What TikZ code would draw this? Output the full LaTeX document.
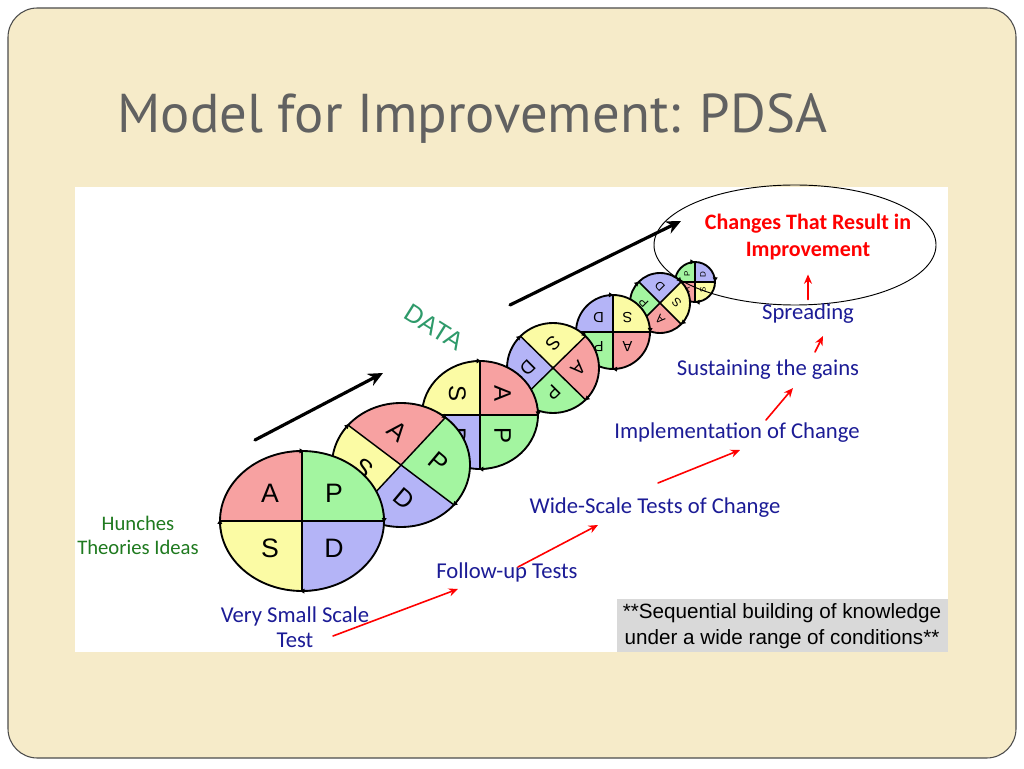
\documentclass[tikz,border=0pt]{standalone}
\usepackage{fontspec}
\setmainfont{Carlito}
\newfontfamily\titlefont{PT Sans}
\newfontfamily\arialfont{Liberation Sans}
\usetikzlibrary{arrows.meta}
\definecolor{slidebg}{HTML}{F6EBC9}
\definecolor{pred}{HTML}{F7A1A1}
\definecolor{pgreen}{HTML}{A3F5A0}
\definecolor{pblue}{HTML}{B4B4F7}
\definecolor{pyellow}{HTML}{FBFBA4}
\definecolor{labelblue}{HTML}{1C1C96}
\definecolor{labelgreen}{HTML}{1F7A1F}
\definecolor{datagreen}{HTML}{2E9A6A}
\tikzset{
  lbl/.style={font=\fontsize{17}{19}\selectfont, text=labelblue, align=center},
  redarrow/.style={draw=red, line width=1.2pt, -{Stealth[length=7pt,width=6pt]}},
  blackarrow/.style={draw=black, line width=2.4pt, -{Stealth[length=11pt,width=10pt]}}
}
% one PDSA wheel: x, y, x radius, y radius, turn, font size
\newcommand\pdsawheel[6]{%
  \begin{scope}[shift={(#1,#2)}]
    \fill[pred] (0,0) -- (#5+90:#3 and #4) arc[start angle=#5+90, end angle=#5+180, x radius=#3, y radius=#4] -- cycle;
    \fill[pgreen] (0,0) -- (#5:#3 and #4) arc[start angle=#5, end angle=#5+90, x radius=#3, y radius=#4] -- cycle;
    \fill[pblue] (0,0) -- (#5-90:#3 and #4) arc[start angle=#5-90, end angle=#5, x radius=#3, y radius=#4] -- cycle;
    \fill[pyellow] (0,0) -- (#5+180:#3 and #4) arc[start angle=#5+180, end angle=#5+270, x radius=#3, y radius=#4] -- cycle;
    \draw[line width=1.1pt] (#5:#3 and #4) -- (#5+180:#3 and #4);
    \draw[line width=1.1pt] (#5+90:#3 and #4) -- (#5+270:#3 and #4);
    \draw[line width=1.4pt] (0,0) ellipse [x radius=#3, y radius=#4];
    \foreach \q in {0,90,180,270}
      \draw[line width=0.8pt, -{Latex[length=4pt,width=4pt]}] (#5+\q+8:#3 and #4) arc[start angle=#5+\q+8, end angle=#5+\q-2, x radius=#3, y radius=#4];
    \node[font=\arialfont\fontsize{#6}{#6}\selectfont, rotate=#5] at (#5+135:0.55*#3 and 0.55*#4) {A};
    \node[font=\arialfont\fontsize{#6}{#6}\selectfont, rotate=#5] at (#5+45:0.55*#3 and 0.55*#4) {P};
    \node[font=\arialfont\fontsize{#6}{#6}\selectfont, rotate=#5] at (#5-45:0.55*#3 and 0.55*#4) {D};
    \node[font=\arialfont\fontsize{#6}{#6}\selectfont, rotate=#5] at (#5+225:0.55*#3 and 0.55*#4) {S};
  \end{scope}}

\begin{document}
\begin{tikzpicture}[x=0.75pt,y=0.75pt,line cap=round,line join=round]
  \useasboundingbox (0,0) rectangle (1024,768);
  \fill[white] (0,0) rectangle (1024,768);
  \draw[fill=slidebg, draw=black!70, line width=0.8pt, rounded corners=22pt] (8,10) rectangle (1016,760);
  \node[anchor=base west, font=\titlefont\fontsize{41}{43}\selectfont, text=black!62] (title) at (113,635) {Model for Improvement: PDSA};
  \fill[white] (75,116) rectangle (948,581);
  % the growing wheels
  \pdsawheel{695}{486}{20}{20}{-270}{6}
  \pdsawheel{660}{465}{30}{30}{-225}{9}
  \pdsawheel{613}{436}{37}{37}{-180}{11}
  \pdsawheel{553}{400}{46}{45}{-135}{14}
  \pdsawheel{480}{353}{58}{54}{-90}{18}
  \pdsawheel{401}{303}{69}{62}{-40}{19}
  \pdsawheel{302}{247}{82}{70}{0}{20}
  % goal
  \draw[line width=0.7pt] (795,523) ellipse [x radius=141, y radius=60];
  \node[font=\bfseries\fontsize{16.5}{20}\selectfont, text=red, align=center] (goal) at (808,531) {Changes That Result in\\Improvement};
  \node[font=\arialfont\fontsize{19}{19}\selectfont, text=datagreen, rotate=-32] (data) at (434,441) {DATA};
  \coordinate (b1) at (255,328);
  \coordinate (b2) at (383,395);
  \coordinate (b3) at (510,463);
  \coordinate (b4) at (681,547);
  \draw[blackarrow] (b1) -- (b2);
  \draw[blackarrow] (b3) -- (b4);
  % steps
  \node[font=\fontsize{15.5}{18}\selectfont, text=labelgreen, align=center] (hunch) at (138,233) {Hunches\\Theories Ideas};
  \node[lbl] (vsst) at (295,141) {Very Small Scale\\Test};
  \node[lbl] (fut) at (507,196) {Follow-up Tests};
  \node[lbl] (wst) at (655,260) {Wide-Scale Tests of Change};
  \node[lbl] (imp) at (737,335) {Implementation of Change};
  \node[lbl] (sus) at (768,398) {Sustaining the gains};
  \node[lbl] (spr) at (808,454) {Spreading};
  \coordinate (r1) at (333,132);
  \coordinate (r2) at (458,179);
  \coordinate (r3) at (518,201);
  \coordinate (r4) at (598,243);
  \coordinate (r5) at (658,285);
  \coordinate (r6) at (740,318);
  \coordinate (r7) at (766,348);
  \coordinate (r8) at (793,380);
  \coordinate (r9) at (815,416);
  \coordinate (r10) at (823,432);
  \draw[redarrow] (r1) -- (r2);
  \draw[redarrow] (r3) -- (r4);
  \draw[redarrow] (r5) -- (r6);
  \draw[redarrow] (r7) -- (r8);
  \draw[redarrow] (r9) -- (r10);
  \draw[redarrow] (spr.north) -- ++(0,25);
  % note
  \fill[black!15] (617,116) rectangle (948,169);
  \node[font=\arialfont\fontsize{15.5}{19}\selectfont, align=center] (note) at (782,142) {**Sequential building of knowledge\\under a wide range of conditions**};
\end{tikzpicture}
\end{document}
